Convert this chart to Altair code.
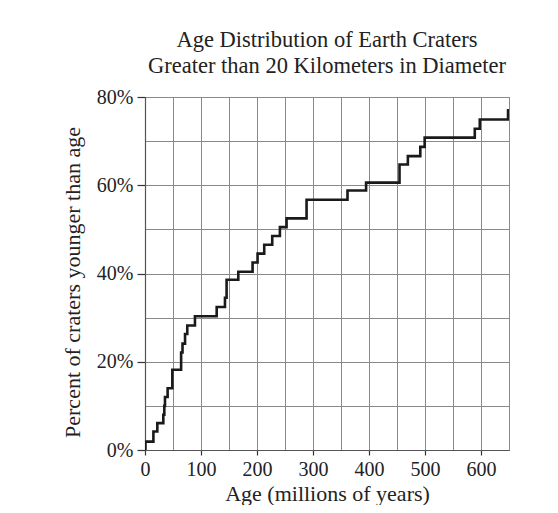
import altair as alt
import pandas as pd

# Step positions (age in millions of years where a new level begins) and cumulative percent
ages = [0, 0.8, 15, 22, 32.7, 34.5, 35.7, 40.4, 48.8, 64.5, 67, 71.5, 75.5, 89.2,
        128, 142.8, 145.7, 166.6, 192.1, 201, 212.9, 227.2, 240.9, 252.8, 288.5,
        361.6, 394.8, 454.5, 469.4, 491.6, 499.4, 588.9, 597.8, 648.3, 650]
percents = [0, 1.9, 4.2, 6.1, 8.0, 10.0, 12.0, 14.0, 18.2, 22.1, 24.1, 26.3, 28.2, 30.3,
            32.4, 34.5, 38.6, 40.4, 42.5, 44.5, 46.5, 48.5, 50.5, 52.5, 56.7,
            58.8, 60.6, 64.7, 66.6, 68.7, 70.8, 72.8, 74.9, 77.0, 77.0]

x_grid = [0, 50, 100, 150, 200, 250, 300, 350, 400, 450, 500, 550, 600, 650]
y_grid = [0, 10, 20, 30, 40, 50, 60, 70, 80]

title_lines = ["Age Distribution of Earth Craters", "Greater than 20 Kilometers in Diameter"]
x_title = "Age (millions of years)"
y_title = "Percent of craters younger than age"

df = pd.DataFrame({"age": ages, "pct": percents})

FONT = "Liberation Serif"

chart = alt.Chart(df).mark_line(
    interpolate="step-after", color="#1a1a1a", strokeWidth=2.6, clip=True
).encode(
    x=alt.X("age:Q", scale=alt.Scale(domain=[0, 650], nice=False, zero=False),
            axis=alt.Axis(values=x_grid, title=x_title,
                          labelExpr="datum.value % 100 === 0 ? datum.label : ''",
                          labelOverlap=False, labelFlush=False,
                          tickSize=5, labelPadding=4, titlePadding=4,
                          tickOpacity={"condition": {"test": "datum.value % 100 === 0", "value": 1}, "value": 0})),
    y=alt.Y("pct:Q", scale=alt.Scale(domain=[0, 80], nice=False),
            axis=alt.Axis(values=y_grid, title=y_title,
                          labelExpr="datum.value % 20 === 0 ? datum.value + '%' : ''",
                          labelOverlap=False, labelFlush=False,
                          tickSize=8, labelPadding=4, titlePadding=12, titleY=185,
                          tickOpacity={"condition": {"test": "datum.value % 20 === 0", "value": 1}, "value": 0})),
).properties(
    width=364, height=353,
    title=alt.TitleParams(text=title_lines, font=FONT, fontSize=22.5, fontWeight="normal",
                          color="#222", anchor="middle", lineHeight=26, offset=10),
    autosize=alt.AutoSizeParams(type="none"),
    padding={"left": 137, "top": 89, "right": 41, "bottom": 55},
).configure_axis(
    labelFont=FONT, labelFontSize=20, labelColor="#222",
    titleFont=FONT, titleFontSize=22, titleFontWeight="normal", titleColor="#222",
    grid=True, gridColor="#8a8a8a", gridWidth=1, gridOpacity=1,
    domainColor="#555", domainWidth=1.2, tickColor="#333", tickWidth=1.2,
).configure_view(stroke="#666", strokeWidth=1)

chart.save("out.html", embed_options={"renderer": "svg", "actions": False})
